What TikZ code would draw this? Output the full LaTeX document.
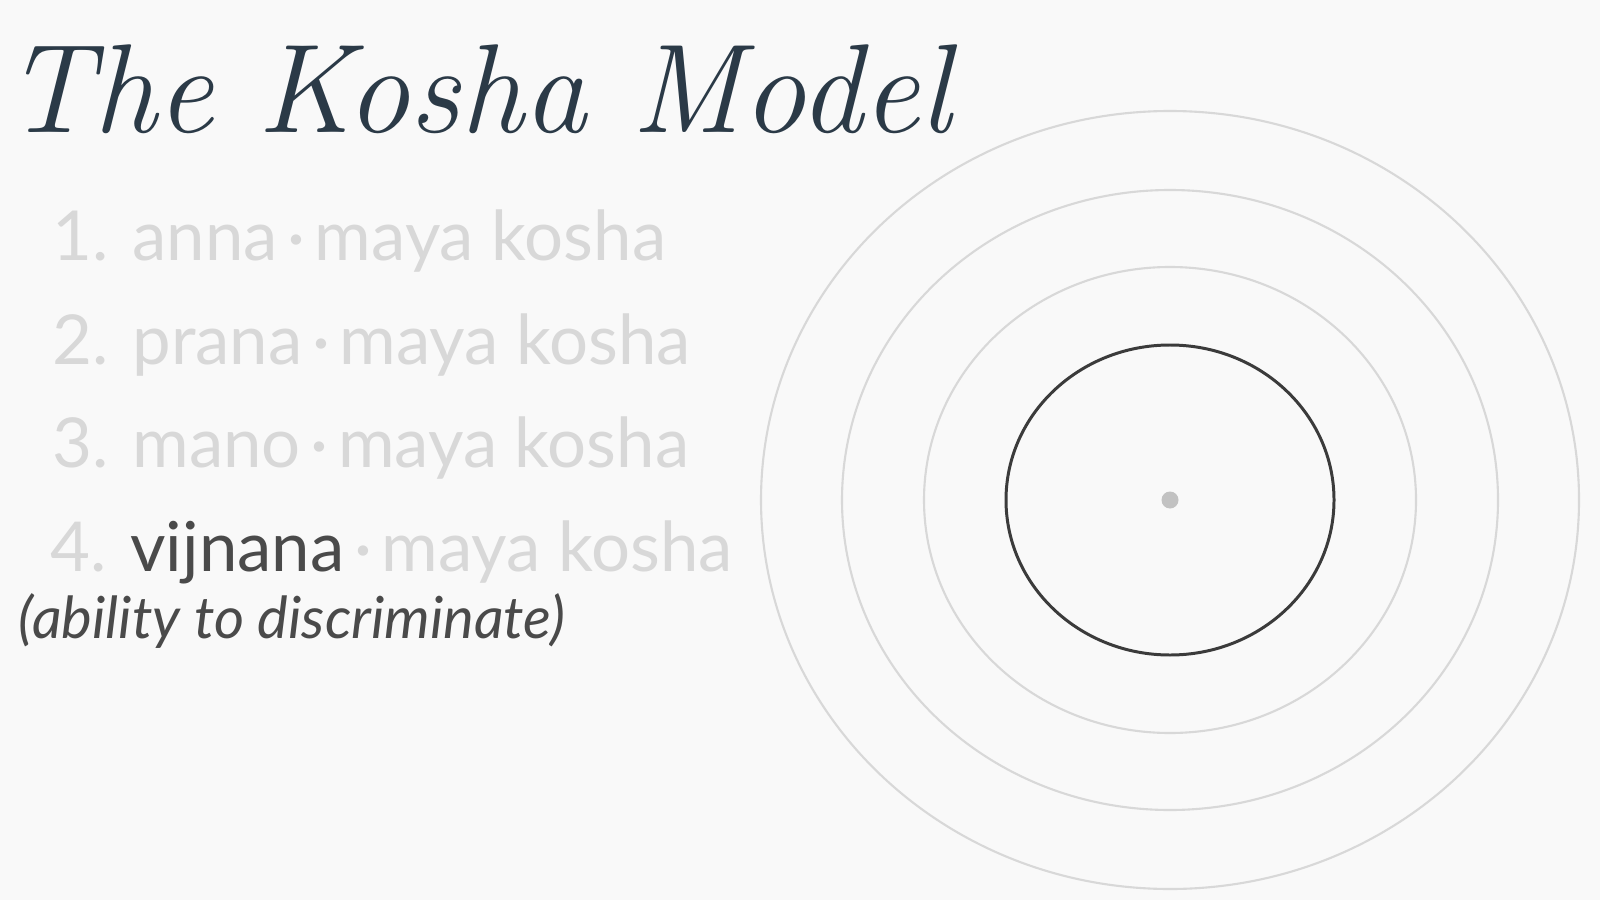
\documentclass[tikz,border=0pt]{standalone}
\usepackage{fontspec}
\newfontfamily\listfont{Lato}
\usetikzlibrary{shapes}
\definecolor{slate}{HTML}{2B3A47}
\definecolor{faded}{HTML}{D8D8D8}
\definecolor{ink}{HTML}{4A4A4A}
\definecolor{paper}{HTML}{F9F9F9}
\tikzstyle{item}=[anchor=base west,inner sep=0pt,font=\listfont\fontsize{19.6}{24}\selectfont,text=faded]
\tikzstyle{ring}=[ellipse,draw=faded,line width=0.6pt,inner sep=0pt]
\newcommand{\mdot}{\hspace{0.14em}\textperiodcentered\hspace{0.14em}}

\begin{document}
\begin{tikzpicture}

    \fill[paper] (0,0) rectangle (16,9);
    \useasboundingbox (0,0) rectangle (16,9);

    \node[anchor=base west, inner sep=0pt, text=slate, font=\itshape\fontsize{36}{42}\selectfont] (title) at (0.04, 7.67) {The Kosha Model};

    \foreach \y/\name/\txt in {6.40/anna/{1. anna\mdot maya kosha}, 5.36/prana/{2. prana\mdot maya kosha}, 4.33/mano/{3. mano\mdot maya kosha}}
        \node[item] (\name) at (0.52, \y) {\txt};

    \node[item] (vijnana) at (0.50, 3.29) {4. \textcolor{ink}{vijnana}\mdot maya kosha};
    \node[item, text=ink, font=\listfont\itshape\fontsize{16.5}{20}\selectfont] (ability) at (0.18, 2.62) {(ability to discriminate)};

    \foreach \rx/\ry/\name in {4.09/3.89/annamaya, 3.28/3.10/pranamaya, 2.46/2.33/manomaya}
        \node[ring, minimum width=2*\rx cm, minimum height=2*\ry cm] (\name) at (11.70, 4.00) {};

    \node[ring, draw=ink!80!black, line width=0.85pt, minimum width=3.28cm, minimum height=3.10cm] (vijnanamaya) at (11.70, 4.00) {};
    \node[circle, fill=faded!90!black, minimum size=0.17cm, inner sep=0pt] (core) at (vijnanamaya.center) {};

\end{tikzpicture}
\end{document}
